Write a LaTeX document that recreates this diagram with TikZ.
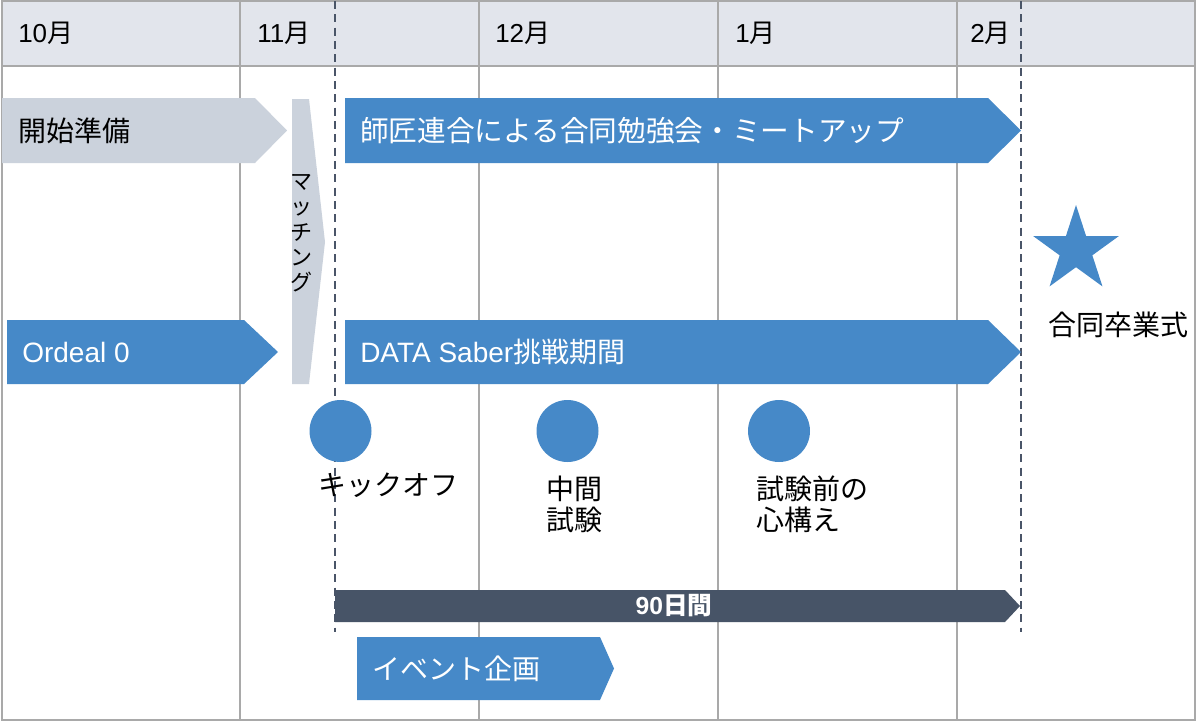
\documentclass[tikz,border=0pt]{standalone}
\usepackage{fontspec}
\setmainfont{Noto Sans CJK JP}
\newfontfamily\lat{Liberation Sans}
\usetikzlibrary{shapes.geometric}
\definecolor{hdr}{HTML}{E2E5EC}
\definecolor{gridc}{HTML}{A9A9A9}
\definecolor{blu}{HTML}{4689C8}
\definecolor{gry}{HTML}{CBD2DC}
\definecolor{slate}{HTML}{475467}
\definecolor{dashc}{HTML}{4A5568}
\tikzset{
  gridline/.style={draw=gridc, line width=1.5pt},
  dashline/.style={draw=dashc, line width=1.1pt, dash pattern=on 6pt off 4pt},
  lbl/.style={anchor=west, inner sep=0pt, font=\fontsize{21}{26}\selectfont},
  hlbl/.style={anchor=west, inner sep=0pt, font=\fontsize{19.5}{24}\selectfont},
  wlbl/.style={lbl, text=white},
  dot/.style={circle, fill=blu, minimum size=46.5pt, inner sep=0pt},
}
\begin{document}
\begin{tikzpicture}[x=0.75pt, y=-0.75pt]
\useasboundingbox (0,0) rectangle (1200,726);
\fill[white] (0,0) rectangle (1200,726);
% header
\fill[hdr] (2,1) rectangle (1195,66);
% grid
\draw[gridline] (2,1) rectangle (1195,720);
\draw[gridline] (2,66) -- (1195,66);
\foreach \x in {240,479,718,957} \draw[gridline] (\x,1) -- (\x,720);
% header labels
\node[hlbl] (m10) at (18,33) {{\lat 10}月};
\node[hlbl] (m11) at (257,33) {{\lat 11}月};
\node[hlbl] (m12) at (495,33) {{\lat 12}月};
\node[hlbl] (m1) at (735,33) {{\lat 1}月};
\node[hlbl] (m2) at (970,33) {{\lat 2}月};
% dashed lines
\draw[dashline] (335,1) -- (335,632);
\draw[dashline] (1021,1) -- (1021,632);
% arrows
\fill[gry] (2,98) -- (255,98) -- (287,130.5) -- (255,163) -- (2,163) -- cycle;
\fill[gry] (292,99) -- (309,99) -- (325,242) -- (309,384) -- (292,384) -- cycle;
\fill[blu] (345,98) -- (988,98) -- (1021,130.5) -- (988,163) -- (345,163) -- cycle;
\fill[blu] (7,320) -- (244,320) -- (278,352) -- (244,384) -- (7,384) -- cycle;
\fill[blu] (345,320) -- (988,320) -- (1021,352) -- (988,384) -- (345,384) -- cycle;
\fill[slate] (335,590) -- (1005,590) -- (1020,606) -- (1005,622) -- (335,622) -- cycle;
\fill[blu] (357,637) -- (600,637) -- (614,668.5) -- (600,700) -- (357,700) -- cycle;
% arrow labels
\node[lbl] (prep) at (18,130.5) {開始準備};
\node[wlbl, font=\fontsize{21.5}{26}\selectfont] (study) at (360,130.5) {師匠連合による合同勉強会・ミートアップ};
\node[wlbl] (ordeal) at (22,352) {\lat Ordeal 0};
\node[wlbl] (saber) at (360,352) {{\lat DATA Saber}挑戦期間};
\node[anchor=center, inner sep=0pt, text=white, font=\fontsize{18.5}{22}\selectfont\bfseries] (days) at (674,606) {{\lat\bfseries 90}日間};
\node[wlbl] (event) at (372,668.5) {イベント企画};
\node[anchor=north, inner sep=0pt, align=center, font=\fontsize{16.5}{19}\selectfont] (match) at (301,174) {マ\\ッ\\チ\\ン\\グ};
% milestones
\node[dot] (c1) at (340.5,431) {};
\node[dot] (c2) at (567.5,431) {};
\node[dot] (c3) at (779,431) {};
\node[lbl] (kick) at (318,485) {キックオフ};
\node[lbl, anchor=north west, align=left, font=\fontsize{21}{23}\selectfont] (mid) at (546,476) {中間\\試験};
\node[lbl, anchor=north west, align=left, font=\fontsize{21}{23}\selectfont] (prep2) at (756,476) {試験前の\\心構え};
% star
\node[star, star points=5, star point ratio=2.618, fill=blu, minimum size=67.5pt, inner sep=0pt] (st) at (1076,250) {};
\node[lbl] (grad) at (1048,325) {合同卒業式};
\end{tikzpicture}
\end{document}
